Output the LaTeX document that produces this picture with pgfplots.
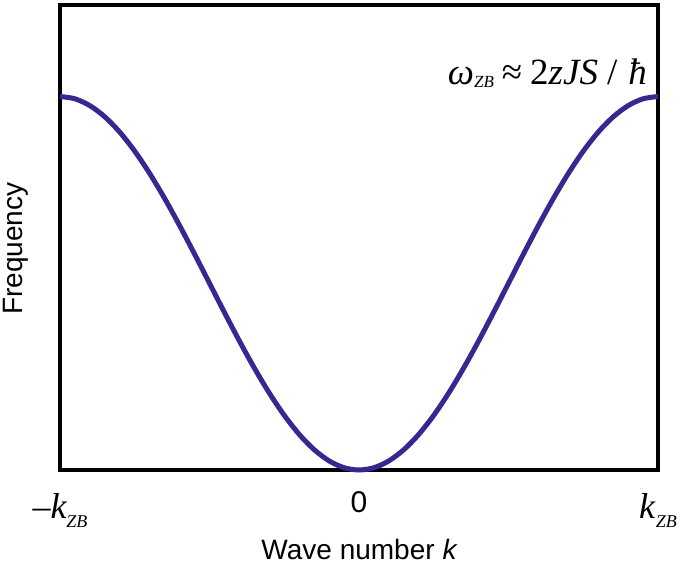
\documentclass[border=0pt]{standalone}
\usepackage{fontspec}
\setmainfont{Liberation Sans}
\newfontfamily\tms{Liberation Serif}
\usepackage{pgfplots}
\pgfplotsset{compat=1.18}
\definecolor{curve}{RGB}{55,40,145}
% subscript "ZB" (size, drop)
\newcommand\zb[2]{\raisebox{-#2}{\fontsize{#1}{#1}\selectfont\itshape ZB}}

\begin{document}
\begin{tikzpicture}
\begin{axis}[
  width=598pt, height=465pt,
  scale only axis,
  xmin=-1, xmax=1,
  ymin=0, ymax=2.49,
  axis line style={line width=3.8pt, black},
  xtick={-1,0,1},
  xticklabels={
    {\tms\fontsize{36}{36}\selectfont\textendash\itshape k\zb{18}{9pt}},
    {\raisebox{6pt}{\fontsize{30}{30}\selectfont 0}},
    {\tms\fontsize{36}{36}\selectfont\itshape k\hspace{1pt}\zb{18}{9pt}}},
  x tick label style={anchor=base, yshift=-48pt, inner sep=0pt},
  major tick length=0pt,
  ytick=\empty,
  xlabel={\fontsize{28}{28}\selectfont Wave number \itshape k},
  xlabel style={at={(axis description cs:0.5,0)}, anchor=base, yshift=-89pt, inner sep=0pt},
  ylabel={\fontsize{28}{28}\selectfont Frequency},
  ylabel style={at={(axis description cs:0,0.476)}, anchor=center, yshift=44pt, inner sep=0pt},
  clip=false,
]
\addplot[curve, line width=5pt, smooth] coordinates {
  (-1,2) (-0.95,1.98769) (-0.9,1.95106) (-0.85,1.89101) (-0.8,1.80902)
  (-0.75,1.70711) (-0.7,1.58779) (-0.65,1.45399) (-0.6,1.30902) (-0.55,1.15643)
  (-0.5,1) (-0.45,0.84357) (-0.4,0.69098) (-0.35,0.54601) (-0.3,0.41221)
  (-0.25,0.29289) (-0.2,0.19098) (-0.15,0.10899) (-0.1,0.04894) (-0.05,0.01231)
  (0,0)
  (0.05,0.01231) (0.1,0.04894) (0.15,0.10899) (0.2,0.19098) (0.25,0.29289)
  (0.3,0.41221) (0.35,0.54601) (0.4,0.69098) (0.45,0.84357) (0.5,1)
  (0.55,1.15643) (0.6,1.30902) (0.65,1.45399) (0.7,1.58779) (0.75,1.70711)
  (0.8,1.80902) (0.85,1.89101) (0.9,1.95106) (0.95,1.98769) (1,2)
};
\node[anchor=base east, inner sep=0pt] at (axis description cs:0.9816,0.828)
  {\tms\fontsize{37}{37}\selectfont\itshape ω\zb{17}{3pt}\hspace{8pt}\upshape≈\hspace{8pt}2\itshape zJS\upshape\hspace{9pt}/\hspace{11pt}\itshape ħ};
\end{axis}
\pgfresetboundingbox
\path (current axis.south west) ++(-60pt,-101pt) coordinate (bl);
\path (current axis.north east) ++(27pt,5pt) coordinate (tr);
\useasboundingbox (bl) rectangle (tr);
\end{tikzpicture}
\end{document}
